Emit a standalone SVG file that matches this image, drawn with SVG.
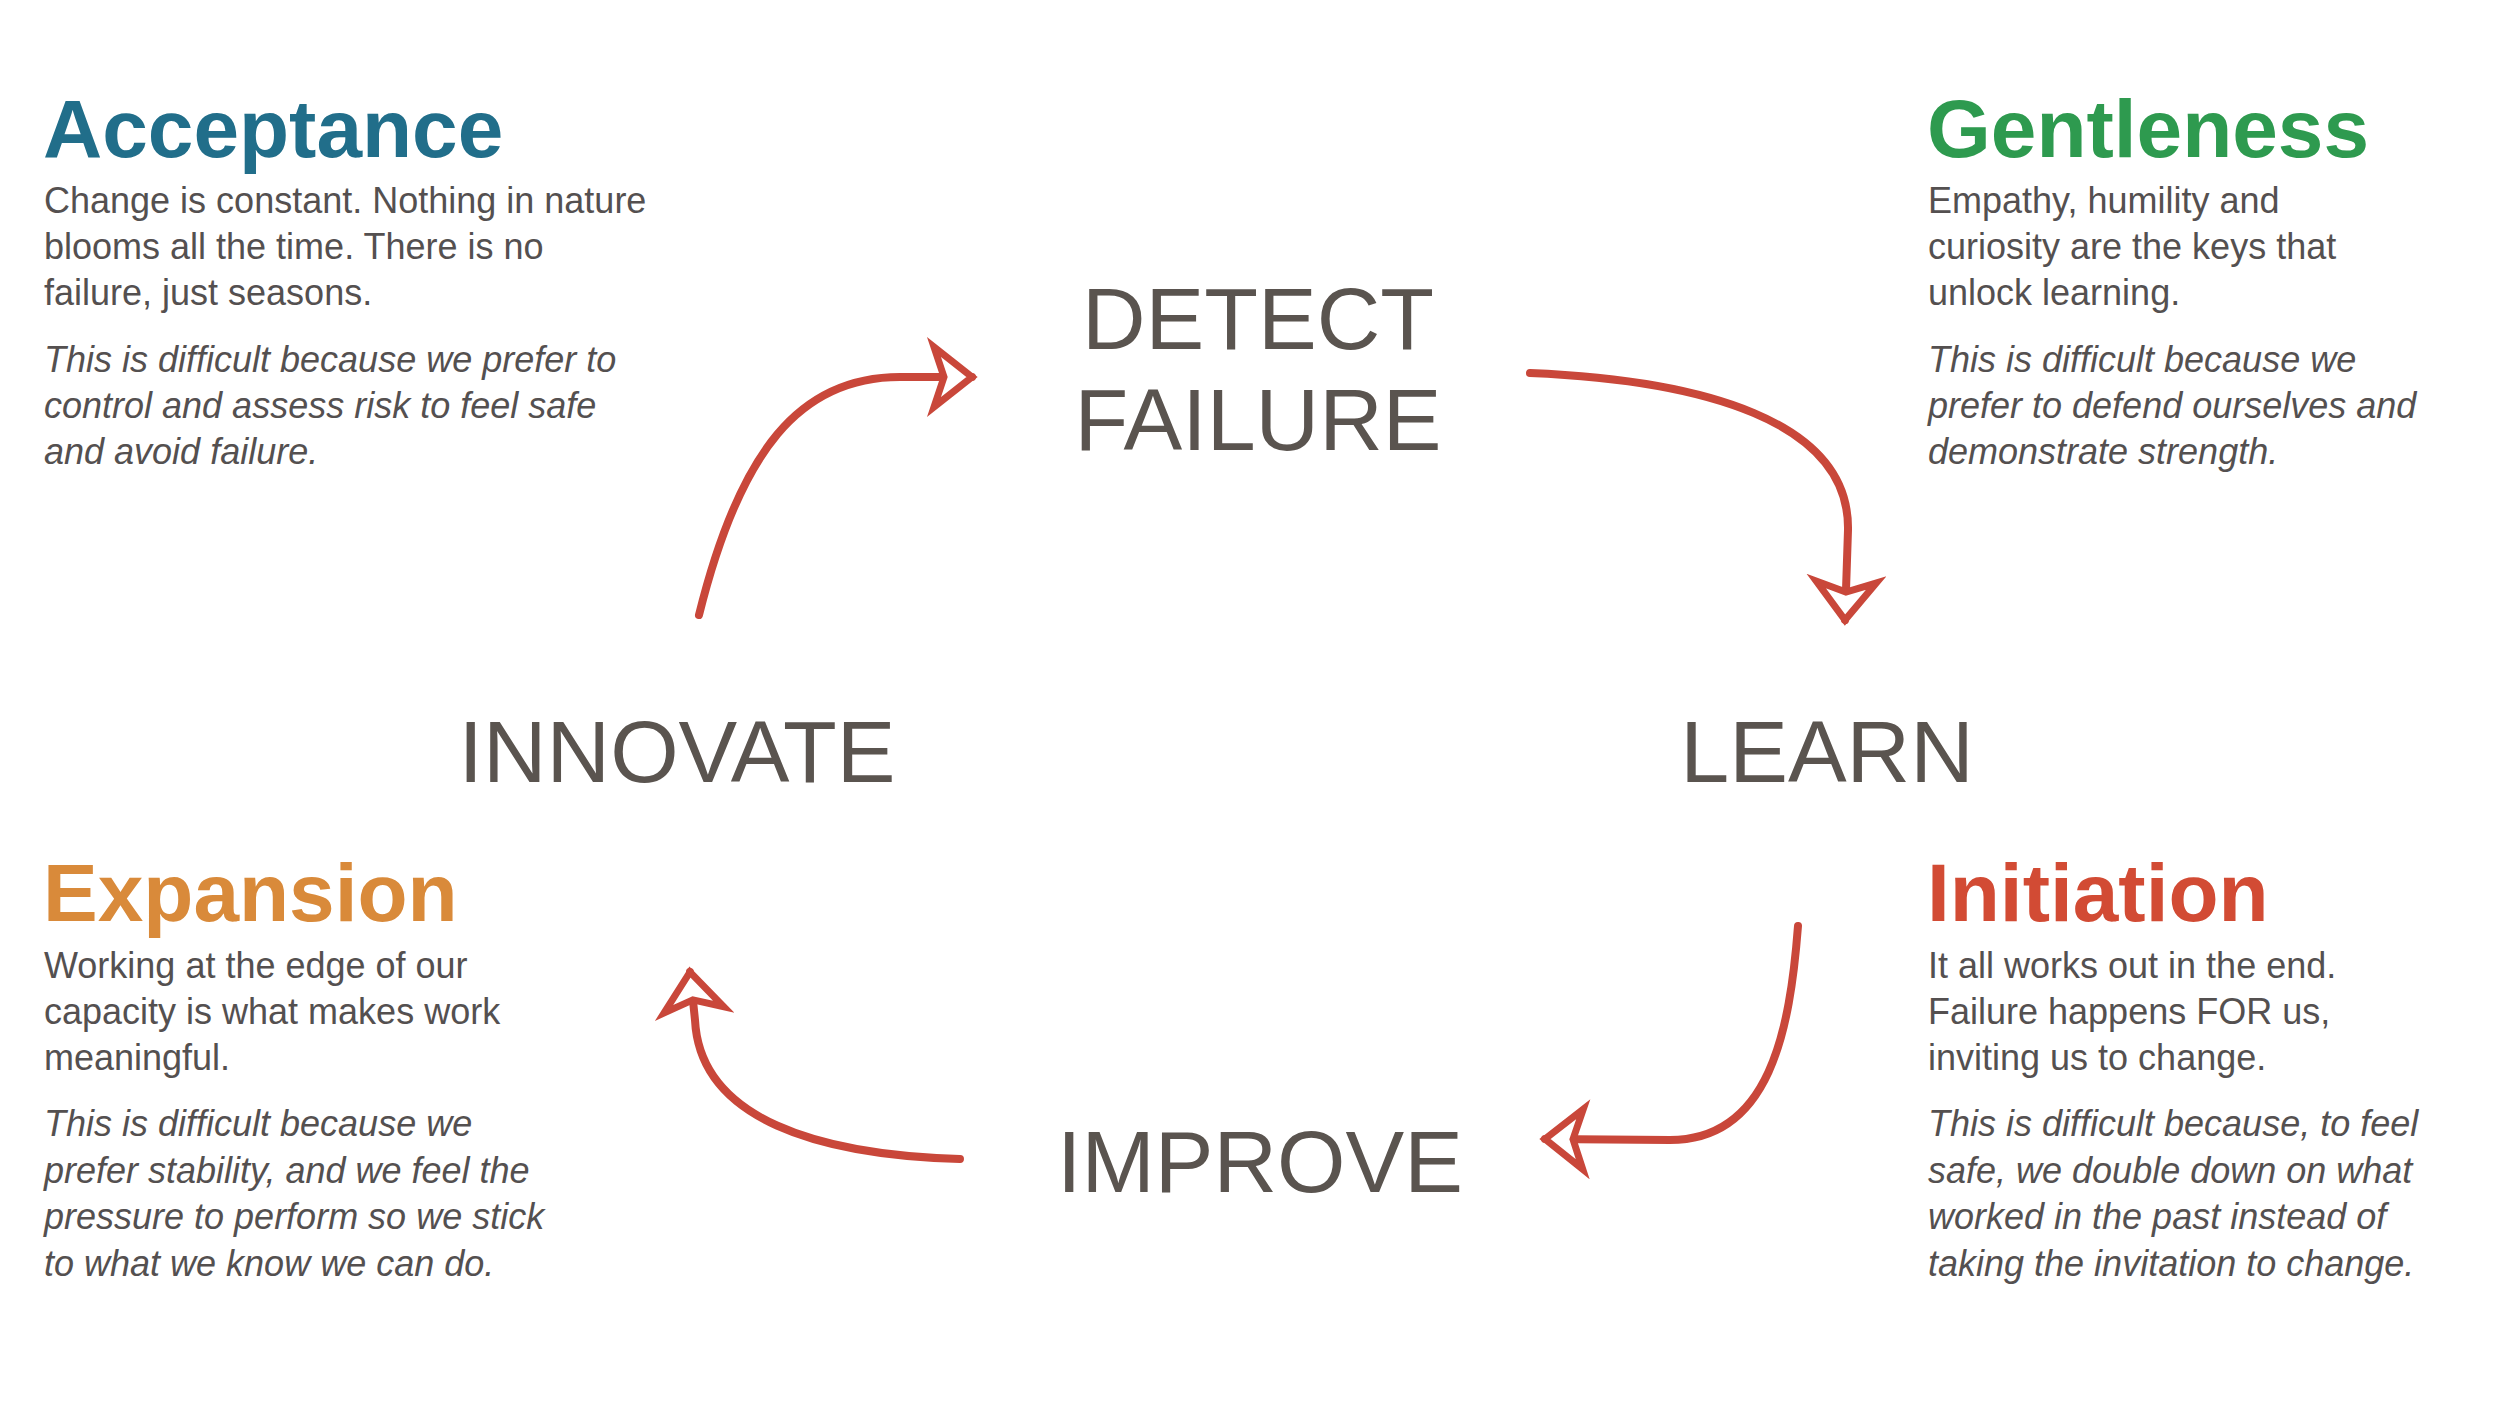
<svg xmlns="http://www.w3.org/2000/svg" width="2500" height="1406" viewBox="0 0 2500 1406">
<style>
.h{font-family:"Liberation Sans",Arial,sans-serif;font-weight:bold;font-size:82px}
.b{font-family:"Liberation Sans",Arial,sans-serif;font-size:36px;fill:#545050}
.i{font-family:"Liberation Sans",Arial,sans-serif;font-size:36px;fill:#545050;font-style:italic}
.n{font-family:"Liberation Sans",Arial,sans-serif;font-size:88px;fill:#5a544f;text-anchor:middle}
.c{fill:none;stroke:#c9473a;stroke-width:8;stroke-linecap:round}
</style>
<defs>
<marker id="ah" markerUnits="userSpaceOnUse" markerWidth="80" markerHeight="80" viewBox="-10 -40 60 80" refX="40" refY="0" orient="auto">
<polygon points="2,-30 40,0 2,30 12,0" fill="#fff" stroke="#c9473a" stroke-width="7" stroke-linejoin="miter"/>
</marker>
</defs>
<rect width="2500" height="1406" fill="#fff"/>
<g id="acceptance">
<text class="h" x="43" y="157" fill="#216e8a">Acceptance</text>
<text class="b" x="44" y="213">Change is constant. Nothing in nature</text>
<text class="b" x="44" y="259">blooms all the time. There is no</text>
<text class="b" x="44" y="305">failure, just seasons.</text>
<text class="i" x="44" y="372">This is difficult because we prefer to</text>
<text class="i" x="44" y="418">control and assess risk to feel safe</text>
<text class="i" x="44" y="464">and avoid failure.</text>
</g>
<g id="gentleness">
<text class="h" x="1927" y="157" fill="#2e9a4f">Gentleness</text>
<text class="b" x="1928" y="213">Empathy, humility and</text>
<text class="b" x="1928" y="259">curiosity are the keys that</text>
<text class="b" x="1928" y="305">unlock learning.</text>
<text class="i" x="1928" y="372">This is difficult because we</text>
<text class="i" x="1928" y="418">prefer to defend ourselves and</text>
<text class="i" x="1928" y="464">demonstrate strength.</text>
</g>
<g id="expansion">
<text class="h" x="43" y="921" fill="#d98a3a">Expansion</text>
<text class="b" x="44" y="978">Working at the edge of our</text>
<text class="b" x="44" y="1024">capacity is what makes work</text>
<text class="b" x="44" y="1070">meaningful.</text>
<text class="i" x="44" y="1136">This is difficult because we</text>
<text class="i" x="44" y="1183">prefer stability, and we feel the</text>
<text class="i" x="44" y="1229">pressure to perform so we stick</text>
<text class="i" x="44" y="1276">to what we know we can do.</text>
</g>
<g id="initiation">
<text class="h" x="1927" y="921" fill="#d24b34">Initiation</text>
<text class="b" x="1928" y="978">It all works out in the end.</text>
<text class="b" x="1928" y="1024">Failure happens FOR us,</text>
<text class="b" x="1928" y="1070">inviting us to change.</text>
<text class="i" x="1928" y="1136">This is difficult because, to feel</text>
<text class="i" x="1928" y="1183">safe, we double down on what</text>
<text class="i" x="1928" y="1229">worked in the past instead of</text>
<text class="i" x="1928" y="1276">taking the invitation to change.</text>
</g>
<g id="detect"><text class="n" x="1258" y="349">DETECT</text><text class="n" x="1258" y="450">FAILURE</text></g>
<g id="learn"><text class="n" x="1827" y="782">LEARN</text></g>
<g id="innovate"><text class="n" x="677" y="782">INNOVATE</text></g>
<g id="improve"><text class="n" x="1260" y="1192">IMPROVE</text></g>
<g id="connectors">
<path class="c" marker-end="url(#ah)" d="M699 615 C 740 450 800 377 900 377 L 972 377"/>
<path class="c" marker-end="url(#ah)" d="M1530 373 C 1700 380 1850 420 1848 530 L 1845 620"/>
<path class="c" marker-end="url(#ah)" d="M1798 926 C 1790 1030 1770 1140 1670 1140 L 1545 1139"/>
<path class="c" marker-end="url(#ah)" d="M960 1159 C 820 1155 700 1120 695 1020 L 690 972"/>
</g>
</svg>
